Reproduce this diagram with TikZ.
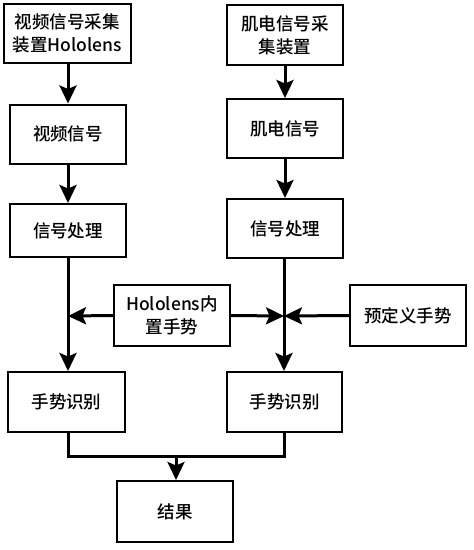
\documentclass[tikz,border=0pt]{standalone}
\usepackage{fontspec}
\setmainfont{Noto Sans CJK SC}[BoldFont={Noto Sans CJK SC Medium}]
\usetikzlibrary{arrows.meta}
\begin{document}
\begin{tikzpicture}[x=1pt,y=-1pt,
  box/.style={draw,line width=2pt,minimum width=116pt,minimum height=59pt,inner sep=2pt,align=center,font=\fontsize{17.5}{23}\selectfont\bfseries},
  conn/.style={line width=3pt,-{Stealth[length=18pt,width=17pt,inset=3.5pt]}},
  plain/.style={line width=3pt}]
\useasboundingbox (0,0) rectangle (474,550);
% left column
\node[box,minimum width=127pt] (v1) at (67.5,33.5) {视频信号采集\\装置Hololens};
\node[box] (v2) at (68,134) {视频信号};
\node[box,minimum height=53pt] (v3) at (68,230.5) {信号处理};
% right column
\node[box,minimum height=60pt] (e1) at (285,35) {肌电信号采\\集装置};
\node[box] (e2) at (285,128.5) {肌电信号};
\node[box] (e3) at (285,228.5) {信号处理};
% middle row
\node[box,minimum height=61pt] (h) at (172,315.5) {Hololens内\\置手势};
\node[box,minimum height=61pt] (p) at (408,315.5) {预定义手势};
% recognition
\node[box,minimum height=60pt,minimum width=117pt] (g1) at (66.5,402) {手势识别};
\node[box,minimum height=60pt,minimum width=115pt] (g2) at (284.5,402) {手势识别};
\node[box,minimum height=61pt] (r) at (175,511.5) {结果};
% junctions
\coordinate (jl) at (68,316);
\coordinate (jr) at (284,316);
\coordinate (bl) at (68,456);
\coordinate (br) at (284,456);
\coordinate (bm) at (176,456);
% connectors
\draw[conn] (v1.south -| v2) -- (v2.north);
\draw[conn] (v2.south) -- (v3.north);
\draw[conn] (e1.south -| e2) -- (e2.north);
\draw[conn] (e2.south) -- (e3.north);
\draw[conn] (v3.south) -- (v3.south |- g1.north);
\draw[conn] (e3.south -| jr) -- (jr |- g2.north);
\draw[conn] (h.west) -- (jl);
\draw[conn] (h.east) -- (jr);
\draw[conn] (p.west) -- (jr);
\draw[plain] (g1.south -| bl) -- (bl) -- (br) -- (g2.south -| br);
\draw[conn] (bm) -- (bm |- r.north);
\end{tikzpicture}
\end{document}
